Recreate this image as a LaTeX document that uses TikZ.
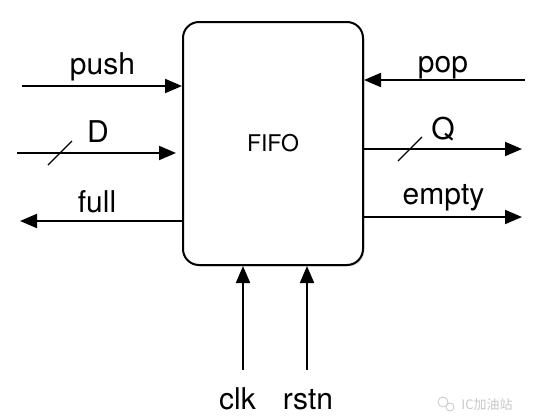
\documentclass[tikz,border=0pt]{standalone}
\usepackage{fontspec}
\setmainfont{TeX Gyre Heros}
\newfontfamily\cjk{Noto Sans CJK SC}
\usetikzlibrary{arrows.meta,shadows}

\tikzset{sig/.style={draw,line width=2pt,-{Triangle[length=17pt,width=14pt]}},
	bus/.style={draw,line width=1.3pt}
}
\tikzstyle{block}=[draw,line width=2pt,rounded corners=16pt,fill=white,minimum width=180pt,minimum height=243pt,inner sep=0pt,
	drop shadow={shadow xshift=1.5pt,shadow yshift=-1.5pt,opacity=0.25}]
\tikzstyle{signame}=[anchor=base,inner sep=0pt,font=\fontsize{30}{30}\selectfont]
\tikzstyle{wmark}=[inner sep=0pt,text=black!22,font=\cjk\fontsize{13}{13}\selectfont]

\begin{document}
\begin{tikzpicture}[x=1pt,y=-1pt]
	\useasboundingbox (0,0) rectangle (536,418);
	% the block
	\node (fifo)[block] at (273,143.5) {};
	\node (fifotxt) at (fifo.center) {\fontsize{23}{23}\selectfont FIFO};
	% free ends of the signals
	\coordinate (pushin) at (22,86);
	\coordinate (din) at (17,153);
	\coordinate (fullout) at (20,221);
	\coordinate (popin) at (525,80);
	\coordinate (qout) at (522,149);
	\coordinate (emptyout) at (522,217);
	\coordinate (clkin) at (243,370);
	\coordinate (rstnin) at (307,370);
	% inputs and outputs
	\draw[sig] (pushin) -- (fifo.west |- pushin);
	\draw[sig,shorten >=6pt] (din) -- (fifo.west |- din);
	\draw[sig] (fifo.west |- fullout) -- (fullout);
	\draw[sig] (popin) -- (fifo.east |- popin);
	\draw[sig] (fifo.east |- qout) -- (qout);
	\draw[sig] (fifo.east |- emptyout) -- (emptyout);
	\draw[sig] (clkin) -- (fifo.south -| clkin);
	\draw[sig] (rstnin) -- (fifo.south -| rstnin);
	% bus slashes
	\draw[bus] ([xshift=43pt]din) ++(-12,12) -- ++(24,-24);
	\draw[bus] ([xshift=46pt]fifo.east |- qout) ++(-12,12) -- ++(24,-24);
	% signal names
	\node (push)[signame] at (102.5,74) {push};
	\node (D)[signame] at (98,142) {D};
	\node (full)[signame] at (97,212) {full};
	\node (pop)[signame] at (443,72) {pop};
	\node (Q)[signame] at (443,139) {Q};
	\node (empty)[signame] at (443.5,204) {empty};
	\node (clk)[signame] at (237.5,409) {clk};
	\node (rstn)[signame] at (308,409) {rstn};
	% watermark
	\begin{scope}[black!22,line width=0.8pt]
		\draw (443,402) circle (5pt);
		\draw (450,407) circle (4pt);
	\end{scope}
	\node (wm)[wmark] at (487,405) {IC加油站};
\end{tikzpicture}
\end{document}
